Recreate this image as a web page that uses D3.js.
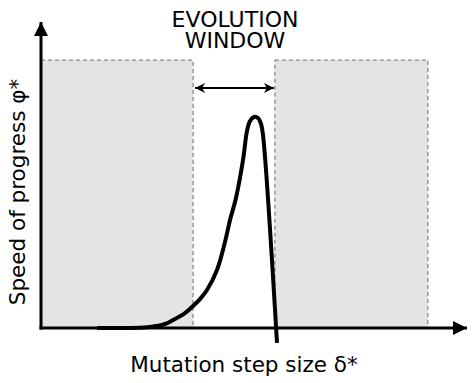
<!DOCTYPE html>
<html><head><meta charset="utf-8">
<script src="https://cdn.jsdelivr.net/npm/d3@7"></script>
<style>html,body{margin:0;padding:0;background:#fff;}svg{display:block;}</style>
</head><body><svg id="chart" width="474" height="383"></svg>
<script>
// Data (delta*, phi*)
const curveDelta = [1.315, 2.559, 2.911, 3.099, 3.380, 3.568, 3.732, 3.897, 4.131, 4.319, 4.437, 4.577, 4.742, 4.836, 4.906, 5.000, 5.094, 5.164, 5.211, 5.540];
const curvePhi   = [0.0, 0.005, 0.019, 0.038, 0.071, 0.104, 0.137, 0.180, 0.275, 0.408, 0.512, 0.616, 0.796, 0.934, 0.981, 1.0, 0.995, 0.967, 0.915, -0.071];
const regionStart = [0, 5.49];
const regionEnd   = [3.57, 9.08];
const regionTop = 1.27;
const windowRange = [3.57, 5.49];
const titleLines = ["EVOLUTION", "WINDOW"];
const xLabel = "Mutation step size δ*";
const yLabel = "Speed of progress φ*";

const svg = d3.select("#chart");
const x = d3.scaleLinear().domain([0, 10]).range([41, 467]);
const y = d3.scaleLinear().domain([0, 1]).range([328, 117]);
const font = "'DejaVu Sans', Verdana, sans-serif";

const defs = svg.append("defs");
defs.append("marker").attr("id","ah").attr("viewBox","0 0 10 10").attr("refX",10).attr("refY",5)
  .attr("markerWidth",20).attr("markerHeight",14).attr("markerUnits","userSpaceOnUse").attr("orient","auto")
  .append("path").attr("d","M0,0 L10,5 L0,10 Z").attr("fill","#000");
defs.append("marker").attr("id","sh").attr("viewBox","0 0 10 10").attr("refX",10).attr("refY",5)
  .attr("markerWidth",12).attr("markerHeight",10).attr("markerUnits","userSpaceOnUse").attr("orient","auto-start-reverse")
  .append("path").attr("d","M0,0 L10,5 L0,10 L3,5 Z").attr("fill","#000");

// gray regions
regionStart.forEach((s,i)=>{
  svg.append("rect").attr("x", x(s)).attr("y", y(regionTop))
    .attr("width", x(regionEnd[i]) - x(s)).attr("height", y(0) - y(regionTop))
    .attr("fill", "#e4e4e4").attr("stroke", "#8a8a8a").attr("stroke-width", 1.3)
    .attr("stroke-dasharray", "4,3");
});

// curve
const pts = curveDelta.map((d,i)=>[d, curvePhi[i]]);
svg.append("path").datum(pts)
  .attr("d", d3.line().x(d=>x(d[0])).y(d=>y(d[1])).curve(d3.curveCatmullRom.alpha(0.5)))
  .attr("fill","none").attr("stroke","#000").attr("stroke-width",4).attr("stroke-linejoin","round");

// axes
svg.append("line").attr("x1", x(0)).attr("y1", y(0)+1.5).attr("x2", x(0)).attr("y2", 22)
  .attr("stroke","#000").attr("stroke-width",3).attr("marker-end","url(#ah)");
svg.append("line").attr("x1", x(0)-1.5).attr("y1", y(0)).attr("x2", x(10)).attr("y2", y(0))
  .attr("stroke","#000").attr("stroke-width",3).attr("marker-end","url(#ah)");

// window arrow
svg.append("line").attr("x1", x(windowRange[0])+2).attr("y1", 88).attr("x2", x(windowRange[1])-1).attr("y2", 88)
  .attr("stroke","#000").attr("stroke-width",2)
  .attr("marker-start","url(#sh)").attr("marker-end","url(#sh)");

// title
const tt = svg.append("text").attr("text-anchor","middle")
  .attr("font-family", font).attr("font-size", 22).attr("fill","#000");
titleLines.forEach((t,i)=>{
  tt.append("tspan").attr("x", 235).attr("y", 27 + i*21).text(t);
});
svg.append("text").attr("x", 244).attr("y", 372).attr("text-anchor","middle")
  .attr("font-family", font).attr("font-size", 21.5).attr("fill","#000").text(xLabel);
svg.append("text").attr("transform","translate(25,192) rotate(-90)").attr("text-anchor","middle")
  .attr("font-family", font).attr("font-size", 21.5).attr("fill","#000").text(yLabel);
</script></body></html>
